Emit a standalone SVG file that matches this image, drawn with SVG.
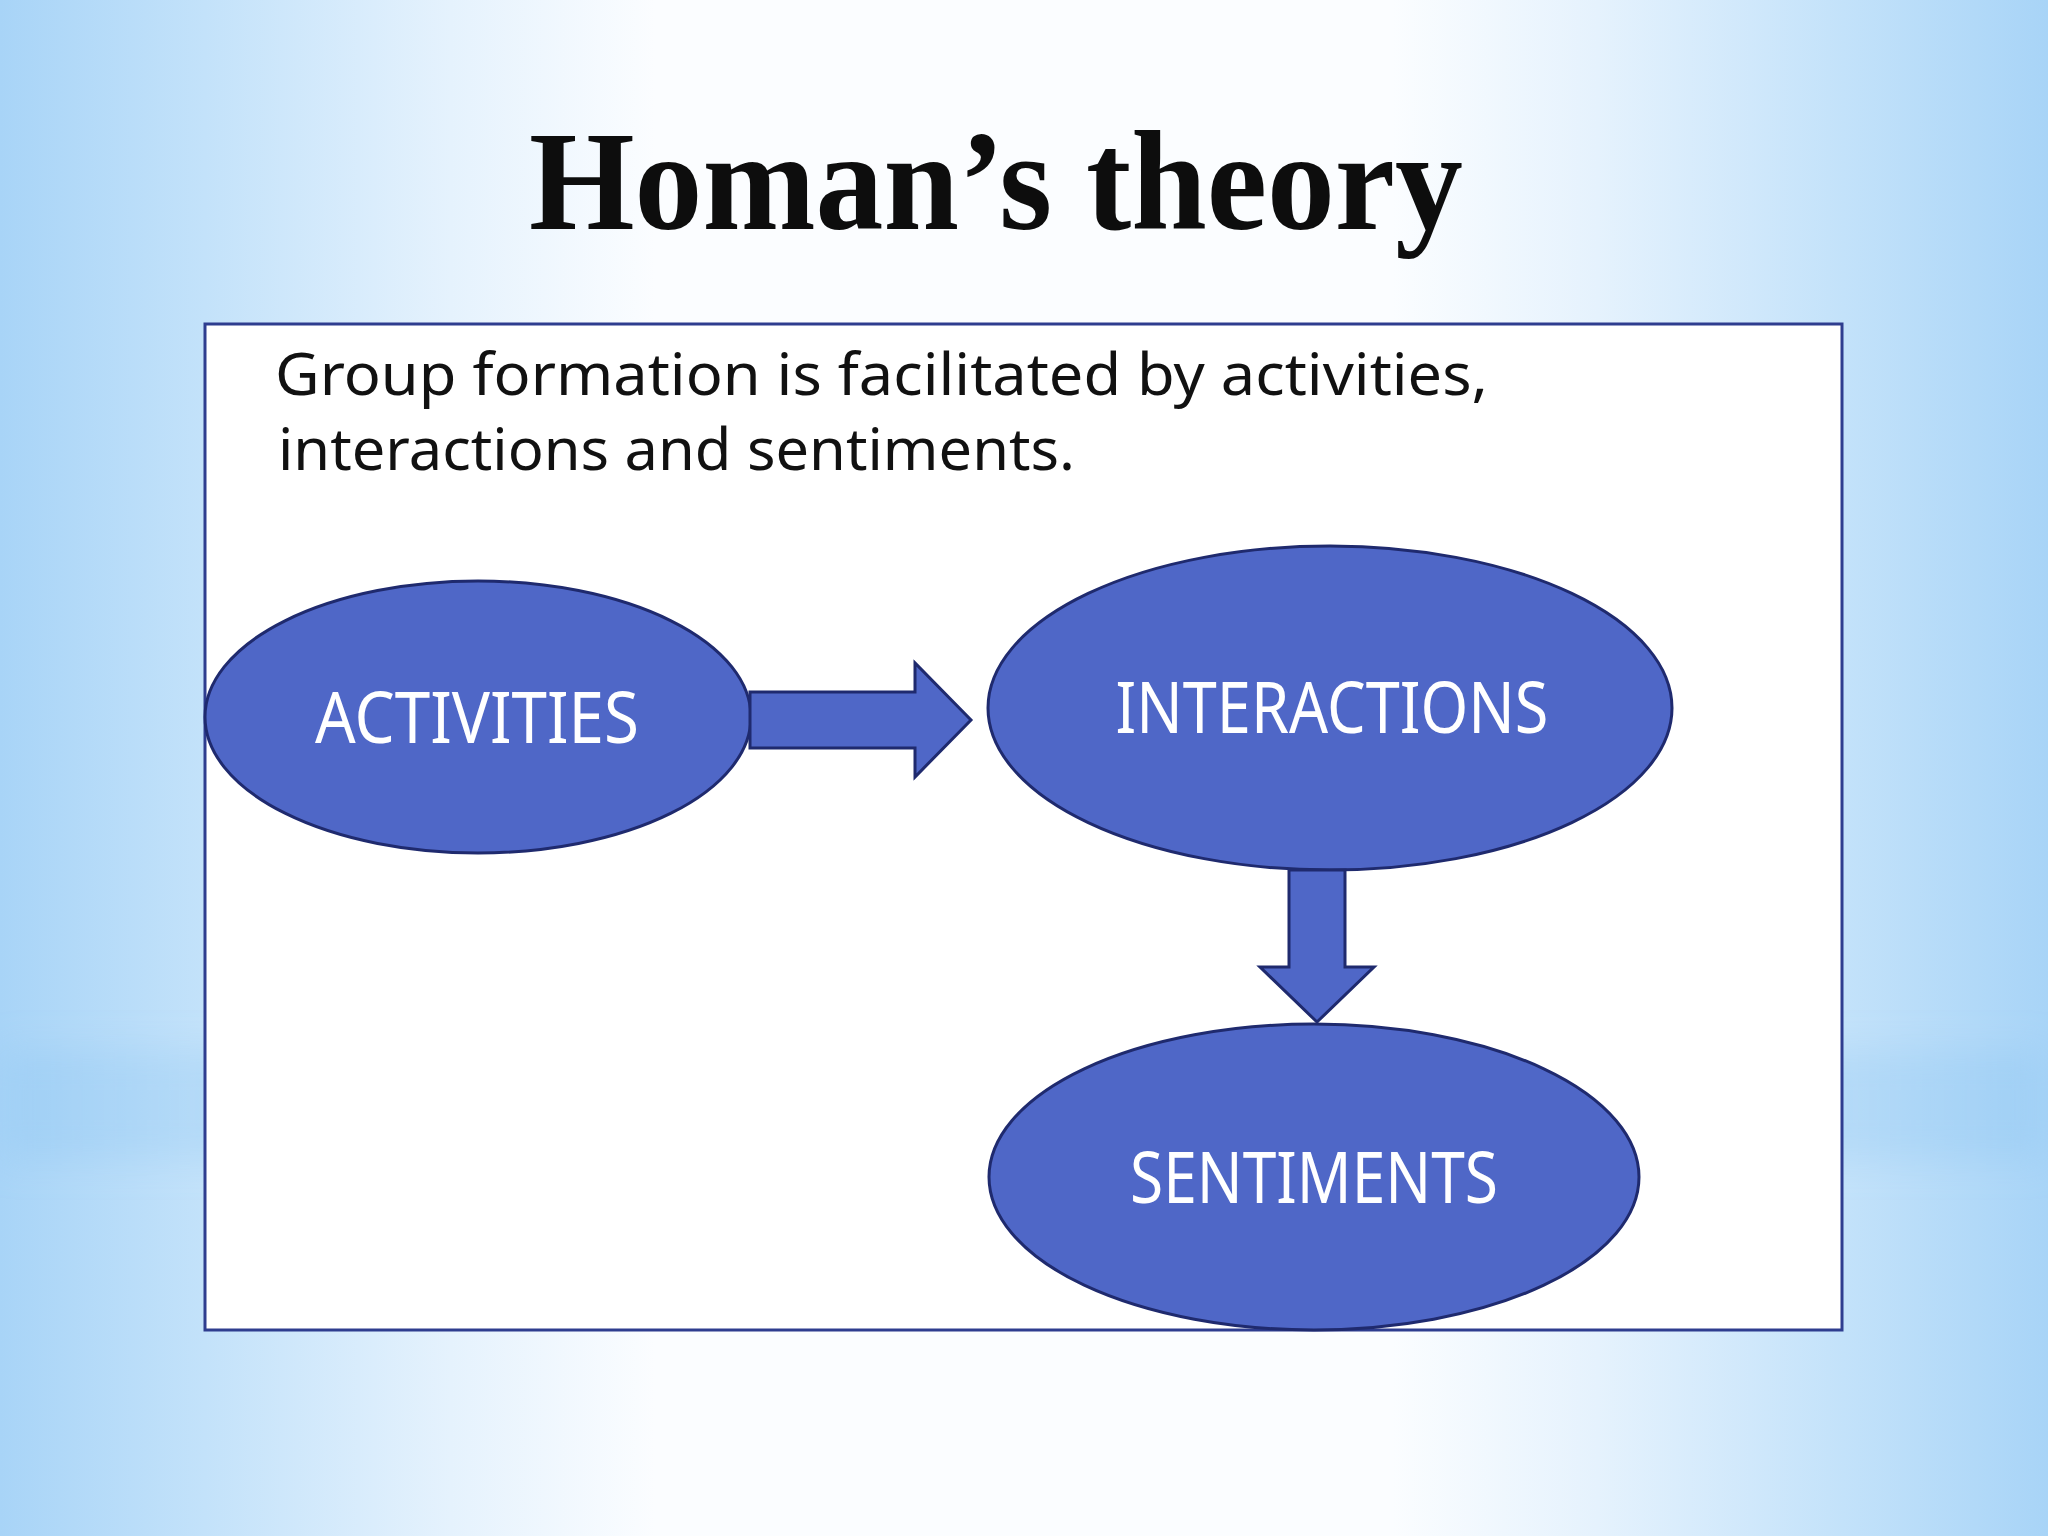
<svg xmlns="http://www.w3.org/2000/svg" width="2048" height="1536" viewBox="0 0 2048 1536">
<defs>
<linearGradient id="bgH" x1="0" y1="0" x2="1" y2="0">
<stop offset="0" stop-color="#a8d4f7"/>
<stop offset="0.1" stop-color="#c3e2fa"/>
<stop offset="0.22" stop-color="#e5f2fd"/>
<stop offset="0.32" stop-color="#fbfdff"/>
<stop offset="0.68" stop-color="#fbfdff"/>
<stop offset="0.78" stop-color="#e5f2fd"/>
<stop offset="0.9" stop-color="#c3e2fa"/>
<stop offset="1" stop-color="#a8d4f7"/>
</linearGradient>
<linearGradient id="bandH" x1="0" y1="0" x2="1" y2="0">
<stop offset="0" stop-color="#8fc6f2" stop-opacity="0.35"/>
<stop offset="0.2" stop-color="#8fc6f2" stop-opacity="0.2"/>
<stop offset="0.4" stop-color="#8fc6f2" stop-opacity="0"/>
<stop offset="0.6" stop-color="#8fc6f2" stop-opacity="0"/>
<stop offset="0.8" stop-color="#8fc6f2" stop-opacity="0.2"/>
<stop offset="1" stop-color="#8fc6f2" stop-opacity="0.35"/>
</linearGradient>
<filter id="soft" x="-10%" y="-100%" width="120%" height="300%">
<feGaussianBlur stdDeviation="18"/>
</filter>
</defs>
<style>
.node ellipse { fill: #4f67c7; stroke: #1f2a6e; stroke-width: 3; }
.node text { fill: #ffffff; font-family: "Noto Sans", "Open Sans", "DejaVu Sans", sans-serif; font-size: 71px; text-anchor: middle; }
.conn path { fill: #4f67c7; stroke: #1f2a6e; stroke-width: 3; stroke-linejoin: miter; }
.body { fill: #111111; font-family: "Noto Sans", "Open Sans", "DejaVu Sans", sans-serif; font-size: 59px; }
</style>
<rect x="0" y="0" width="2048" height="1536" fill="url(#bgH)"/>
<rect x="0" y="1050" width="2048" height="110" fill="url(#bandH)" filter="url(#soft)"/>

<text x="996" y="229" text-anchor="middle" font-family="'Liberation Serif', 'Times New Roman', serif" font-weight="bold" font-size="142" fill="#0d0d0d" textLength="934" lengthAdjust="spacingAndGlyphs">Homan’s theory</text>

<rect id="frame" x="205" y="324" width="1637" height="1006" fill="#ffffff" stroke="#2e3d8f" stroke-width="3"/>

<text class="body" x="275" y="395" textLength="1213" lengthAdjust="spacingAndGlyphs">Group formation is facilitated by activities,</text>
<text class="body" x="278" y="470" textLength="797" lengthAdjust="spacingAndGlyphs">interactions and sentiments.</text>

<g id="activities" class="node">
<ellipse cx="478" cy="717" rx="273" ry="136"/>
<text x="477" y="743" textLength="324" lengthAdjust="spacingAndGlyphs">ACTIVITIES</text>
</g>
<g id="interactions" class="node">
<ellipse cx="1330" cy="708" rx="342" ry="162"/>
<text x="1332" y="733" textLength="433" lengthAdjust="spacingAndGlyphs">INTERACTIONS</text>
</g>
<g id="sentiments" class="node">
<ellipse cx="1314" cy="1177" rx="325" ry="153"/>
<text x="1314" y="1203" textLength="368" lengthAdjust="spacingAndGlyphs">SENTIMENTS</text>
</g>

<g id="connectors" class="conn">
<path d="M750,692 L915,692 L915,663 L971,720 L915,777 L915,748 L750,748 Z"/>
<path d="M1289,870 L1289,967 L1260,967 L1317,1022 L1374,967 L1345,967 L1345,870 Z"/>
</g>
</svg>
